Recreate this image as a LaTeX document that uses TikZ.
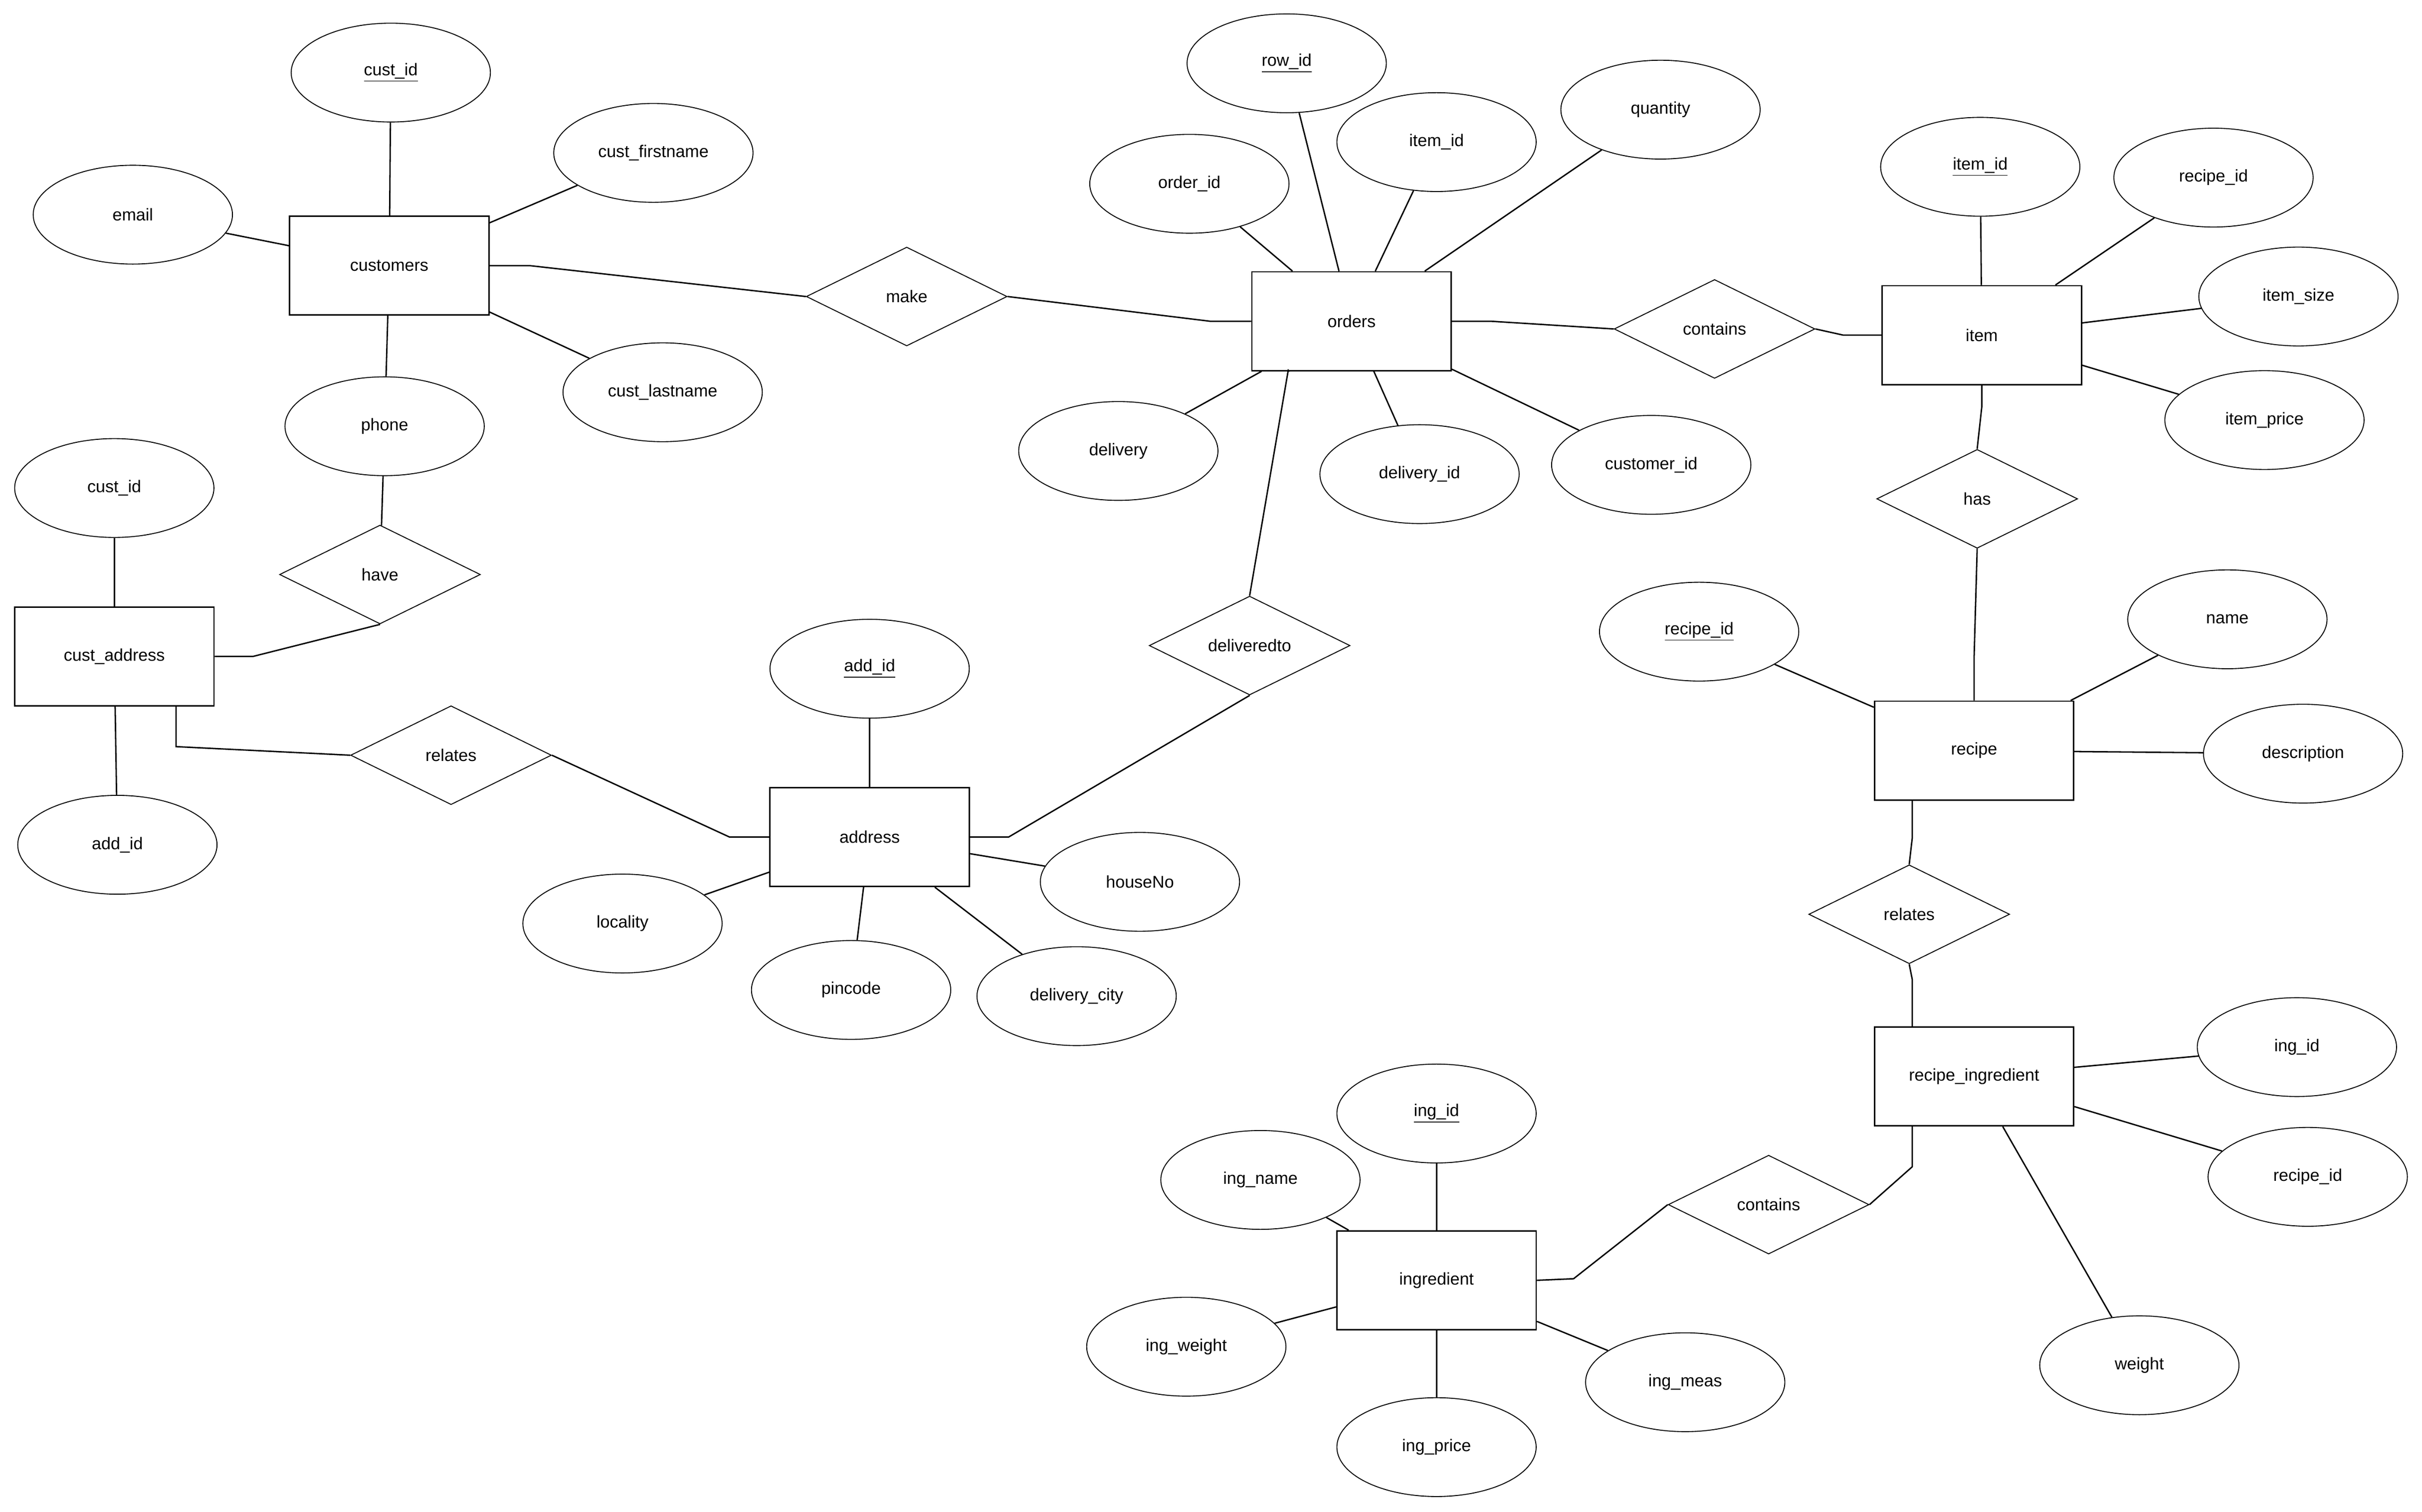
\documentclass[tikz,border=0pt]{standalone}
\usepackage{fontspec}
\setmainfont{Liberation Sans}
\usetikzlibrary{shapes.geometric}
\begin{document}
\begin{tikzpicture}[x=1pt,y=-1pt,font=\fontsize{11}{13}\selectfont,
 ent/.style={draw,rectangle,minimum width=129pt,minimum height=64pt,line width=0.9pt},
 att/.style={draw,ellipse,minimum width=129pt,minimum height=64pt,line width=0.6pt},
 rel/.style={draw,diamond,aspect=2,minimum width=130pt,minimum height=64pt,inner sep=0pt,line width=0.6pt},
 every path/.style={line width=0.9pt}]
\useasboundingbox (0,0) rectangle (1568,979);
\node[ent] (cus) at (252,172) {customers};
\node[ent] (ord) at (875,208) {orders};
\node[ent] (itm) at (1283,217) {item};
\node[ent] (cad) at (74,425) {cust\_address};
\node[ent] (adr) at (563,542) {address};
\node[ent] (rec) at (1278,486) {recipe};
\node[ent] (ri) at (1278,697) {recipe\_ingredient};
\node[ent] (ing) at (930,829) {ingredient};
\node[rel] (make) at (587,192) {make};
\node[rel] (cont) at (1110,213) {contains};
\node[rel] (have) at (246,372) {have};
\node[rel] (delto) at (809,418) {deliveredto};
\node[rel] (rel1) at (292,489) {relates};
\node[rel] (has) at (1280,323) {has};
\node[rel] (rel2) at (1236,592) {relates};
\node[rel] (cont2) at (1145,780) {contains};
\node[att] (a1) at (253,47) {\underline{cust\_id}};
\node[att] (a2) at (423,99) {cust\_firstname};
\node[att] (a3) at (86,139) {email};
\node[att] (a4) at (429,254) {cust\_lastname};
\node[att] (a5) at (249,276) {phone};
\node[att] (b1) at (833,41) {\underline{row\_id}};
\node[att] (b2) at (770,119) {order\_id};
\node[att] (b3) at (930,92) {item\_id};
\node[att] (b4) at (1075,71) {quantity};
\node[att] (b5) at (724,292) {delivery};
\node[att] (b6) at (919,307) {delivery\_id};
\node[att] (b7) at (1069,301) {customer\_id};
\node[att] (c1) at (1282,108) {\underline{item\_id}};
\node[att] (c2) at (1433,115) {recipe\_id};
\node[att] (c3) at (1488,192) {item\_size};
\node[att] (c4) at (1466,272) {item\_price};
\node[att] (d1) at (74,316) {cust\_id};
\node[att] (d2) at (76,547) {add\_id};
\node[att] (e1) at (563,433) {\underline{add\_id}};
\node[att] (e2) at (403,598) {locality};
\node[att] (e3) at (551,641) {pincode};
\node[att] (e4) at (697,645) {delivery\_city};
\node[att] (e5) at (738,571) {houseNo};
\node[att] (f1) at (1100,409) {\underline{recipe\_id}};
\node[att] (f2) at (1442,401) {name};
\node[att] (f3) at (1491,488) {description};
\node[att] (g1) at (1487,678) {ing\_id};
\node[att] (g2) at (1494,762) {recipe\_id};
\node[att] (g3) at (1385,884) {weight};
\node[att] (h1) at (930,721) {\underline{ing\_id}};
\node[att] (h2) at (816,764) {ing\_name};
\node[att] (h3) at (768,872) {ing\_weight};
\node[att] (h4) at (930,937) {ing\_price};
\node[att] (h5) at (1091,895) {ing\_meas};
\foreach \a/\b in {cus/a1,cus/a2,cus/a3,cus/a4,cus/a5,ord/b1,ord/b2,ord/b3,ord/b4,ord/b5,ord/b6,ord/b7,
 itm/c1,itm/c2,itm/c3,itm/c4,cad/d1,cad/d2,adr/e1,adr/e2,adr/e3,adr/e4,adr/e5,rec/f1,rec/f2,rec/f3,
 ri/g1,ri/g2,ri/g3,ing/h1,ing/h2,ing/h3,ing/h4,ing/h5,have/a5}
 \draw (\a) -- (\b);
\draw (cus.east) -- ++(26,0) -- (make.west);
\draw (make.east) -- ++(131,16) -- (ord.west);
\draw (ord.east) -- ++(25,0) -- (cont.west);
\draw (cont.east) -- ++(18,4) -- (itm.west);
\draw (cad.east) -- ++(25,0) -- (have.south);
\draw (cad.south east) ++(-25,0) -- ++(0,26) -- (rel1.west);
\draw (rel1.east) -- ++(115,53) -- (adr.west);
\draw (adr.east) -- ++(25,0) -- (delto.south);
\draw (delto.north) -- ++(25,-146) -- (ord.south west -| 835,240);
\draw (itm.south) -- ++(0,14) -- (has.north);
\draw (has.south) -- ++(-2,71) -- (rec.north);
\draw (rec.south -| 1238,518) -- ++(0,24) -- (rel2.north);
\draw (rel2.south) -- ++(2,10) -- (ri.north -| 1238,665);
\draw (ri.south -| 1238,729) -- ++(0,26) -- (cont2.east);
\draw (cont2.west) -- ++(-61,48) -- (ing.east);
\end{tikzpicture}
\end{document}
